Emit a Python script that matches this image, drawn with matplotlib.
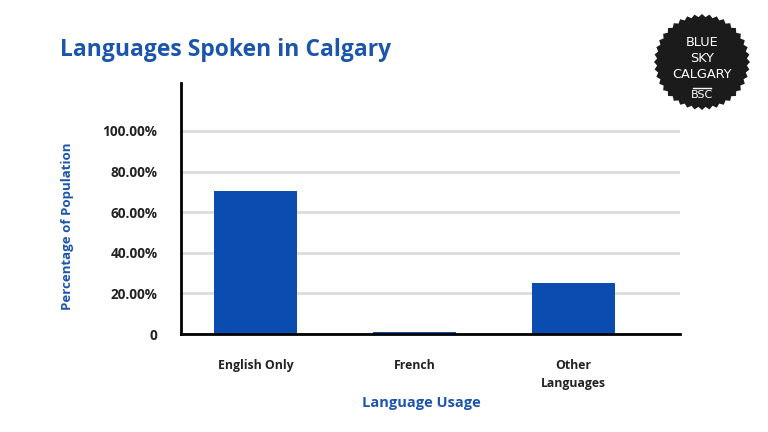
import matplotlib
matplotlib.use("Agg")
import matplotlib.pyplot as plt
import numpy as np
from matplotlib.patches import Polygon

categories = ["English Only", "French", "Other\nLanguages"]
values = [70.2, 1.2, 25.3]
yticks = [0, 20, 40, 60, 80, 100]
ytick_labels = ["0", "20.00%", "40.00%", "60.00%", "80.00%", "100.00%"]

plt.rcParams['font.family'] = ['Open Sans', 'DejaVu Sans']

BLUE = "#0a4caf"
TXT_BLUE = "#1c55ab"

fig = plt.figure(figsize=(7.68, 4.32), dpi=100)
ax = fig.add_axes([181/768, 98/432, 499/768, 251/432])

x = np.arange(len(categories))
ax.bar(x, values, width=0.52, color=BLUE, zorder=3)
ax.set_xlim(-0.47, 2.67)
ax.set_ylim(0, 123.6)
ax.set_yticks(yticks)
ax.set_yticklabels(ytick_labels, fontsize=9.8, fontweight='bold', color='#222222')
ax.set_xticks(x)
ax.set_xticklabels(categories, fontsize=8.8, fontweight='bold', color='#222222', linespacing=1.45)
ax.tick_params(axis='y', length=0, pad=17)
ax.tick_params(axis='x', length=0, pad=18)
ax.grid(axis='y', color='#dcdcdc', linewidth=2, zorder=0)
for s in ['top', 'right']:
    ax.spines[s].set_visible(False)
ax.spines['left'].set_linewidth(2)
ax.spines['bottom'].set_linewidth(2)
ax.spines['left'].set_zorder(4)
ax.spines['bottom'].set_zorder(4)

fig.text(421/768, 1 - 403/432, "Language Usage", ha='center', va='center',
         fontsize=10.5, fontweight='bold', color=TXT_BLUE)
fig.text(68/768, 1 - 226/432, "Percentage of Population", ha='center', va='center',
         rotation=90, fontsize=9.5, fontweight='bold', color=TXT_BLUE)
fig.text(60/768, 1 - 50/432, "Languages Spoken in Calgary", ha='left', va='center',
         fontsize=16.5, fontweight='bold', color=TXT_BLUE)

# logo badge
cx, cy, r = 702, 62, 48
n = 40
t = np.linspace(0, 2*np.pi, n*2, endpoint=False)
rr = np.where(np.arange(n*2) % 2 == 0, r, r - 3)
px = (cx + rr*np.cos(t)) / 768
py = 1 - (cy + rr*np.sin(t)) / 432
fig.patches.append(Polygon(np.column_stack([px, py]), closed=True, transform=fig.transFigure,
                           facecolor='#1b1b1b', edgecolor='none'))
for i, (txt, yy) in enumerate([("BLUE", 43), ("SKY", 59), ("CALGARY", 75), ("BSC", 95)]):
    fig.text(cx/768, 1 - yy/432, txt, ha='center', va='center', fontsize=9.3 if i < 3 else 8,
             color='white', family=['Liberation Sans Narrow', 'DejaVu Sans'])
fig.lines.append(plt.Line2D([693/768, 711/768], [1 - 87.5/432, 1 - 87.5/432], color='white',
                            linewidth=1, transform=fig.transFigure))

fig.savefig("out.png", dpi=100)
